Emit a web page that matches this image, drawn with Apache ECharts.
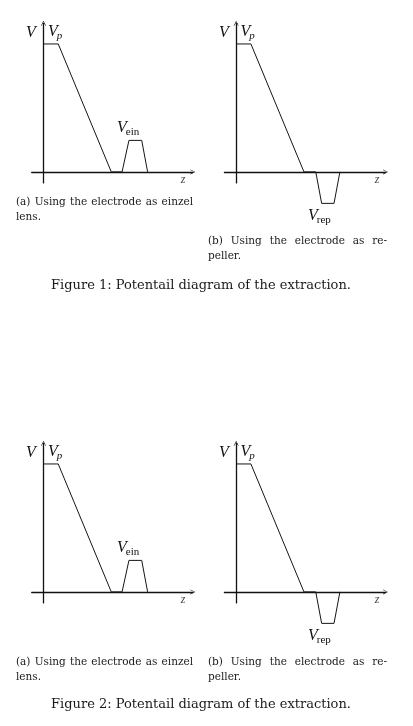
<!DOCTYPE html>
<html>
<head>
<meta charset="utf-8">
<script src="https://cdn.jsdelivr.net/npm/echarts@6/dist/echarts.min.js"></script>
<style>
  html, body { margin: 0; padding: 0; background: #fff; }
  #main { width: 413px; height: 726px; }
</style>
</head>
<body>
<div id="main"></div>
<script>
// potential along the axis (z in cm, V arbitrary)
var zEinzel = [0, 0.75, 3.45, 4.0, 4.35, 5.0, 5.3];
var vEinzel = [6.5, 6.5, 0, 0, 1.6, 1.6, 0];
var zRepeller = [0, 0.75, 3.45, 4.05, 4.35, 4.98, 5.28];
var vRepeller = [6.5, 6.5, 0, 0, -1.6, -1.6, 0];
var zRange = [-0.6, 7.6];
var vRange = [-0.56, 7.55];

var capA = ['(a) Using the electrode as einzel', 'lens.'];
var capB = ['(b) Using the electrode as re-', 'peller.'];
var figCaps = ['Figure 1: Potentail diagram of the extraction.',
               'Figure 2: Potentail diagram of the extraction.'];

var ink = '#111';
var arrow = 'path://M5,0L10,10L8.8,10L5,2.2L1.2,10L0,10Z';
var mathFont = '"Liberation Serif", serif';
var textFont = '"DejaVu Serif", serif';

var cv = document.createElement('canvas').getContext('2d');
function textWidth(s, font) { cv.font = font; return cv.measureText(s).width; }

var grids = [], xAxes = [], yAxes = [], series = [], graphics = [];

function axisLine(w) {
  return { onZero: true, symbol: ['none', arrow], symbolSize: [6, 5],
           lineStyle: { color: ink, width: w } };
}

function addPanel(left, top, zs, vs) {
  var i = grids.length;
  grids.push({ left: left, top: top, width: 161.1, height: 159.6 });
  xAxes.push({ type: 'value', gridIndex: i, min: zRange[0], max: zRange[1],
    axisLine: axisLine(1.3), axisTick: { show: false }, axisLabel: { show: false },
    splitLine: { show: false } });
  yAxes.push({ type: 'value', gridIndex: i, min: vRange[0], max: vRange[1],
    axisLine: axisLine(1.3), axisTick: { show: false }, axisLabel: { show: false },
    splitLine: { show: false } });
  series.push({ type: 'line', xAxisIndex: i, yAxisIndex: i, clip: false,
    showSymbol: false, silent: true,
    lineStyle: { color: '#151515', width: 1 },
    data: zs.map(function (z, k) { return [z, vs[k]]; }) });
}

function txt(x, y, s, font, fill, align) {
  graphics.push({ type: 'text', x: x, y: y, silent: true,
    style: { text: s, font: font, fill: fill || ink, align: align || 'left', verticalAlign: 'middle' } });
}

// italic V with a subscript
function mathV(x, y, sub, subItalic) {
  var f = 'italic 16px ' + mathFont;
  txt(x, y, 'V', f);
  if (sub) {
    var sf = (subItalic ? 'italic ' : '') + '11px ' + mathFont;
    txt(x + textWidth('V', f) - 1, y + 4, sub, sf);
  }
}

// justified first line, ragged second
function caption(x, y, width, lines) {
  var font = '10.5px ' + textFont;
  var words = lines[0].split(' ');
  var total = words.reduce(function (a, w) { return a + textWidth(w, font); }, 0);
  var gap = (width - total) / (words.length - 1);
  var cx = x;
  words.forEach(function (w) { txt(cx, y, w, font, '#1a1a1a'); cx += textWidth(w, font) + gap; });
  txt(x, y + 15, lines[1], font, '#1a1a1a');
}

[0, 1].forEach(function (f) {
  var dy = 420 * f;
  addPanel(31.7, 23.3 + dy, zEinzel, vEinzel);
  addPanel(224.4, 23.3 + dy, zRepeller, vRepeller);

  txt(31, 33 + dy, 'V', 'italic 16px ' + mathFont, ink, 'center');
  txt(224, 33 + dy, 'V', 'italic 16px ' + mathFont, ink, 'center');
  mathV(48, 32 + dy, 'p', true);
  mathV(240.5, 32 + dy, 'p', true);
  mathV(117, 128 + dy, 'ein', false);
  mathV(308, 216 + dy, 'rep', false);
  txt(183, 180 + dy, 'z', 'italic 12px ' + mathFont, '#444', 'center');
  txt(377, 180 + dy, 'z', 'italic 12px ' + mathFont, '#444', 'center');

  if (f === 0) {
    caption(16, 202, 177, capA);
    caption(208, 241, 179, capB);
  } else {
    caption(16, 662, 177, capA);
    caption(208, 662, 179, capB);
  }
  txt(201, (f === 0 ? 286 : 705), figCaps[f], '13px ' + textFont, '#1a1a1a', 'center');
});

var chart = echarts.init(document.getElementById('main'), null, { renderer: 'canvas' });
chart.setOption({
  animation: false,
  grid: grids,
  xAxis: xAxes,
  yAxis: yAxes,
  series: series,
  graphic: graphics
});
</script>
</body>
</html>
